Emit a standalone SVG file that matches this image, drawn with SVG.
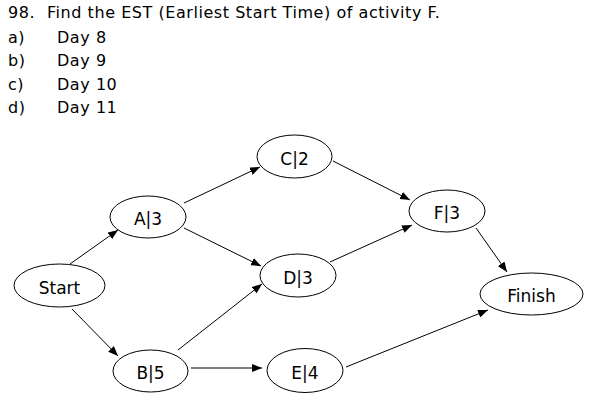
<svg xmlns="http://www.w3.org/2000/svg" width="604" height="402" viewBox="0 0 604 402">
<style>
text{font-family:"DejaVu Sans",Verdana,sans-serif;fill:#000}
#question text{font-size:16px;letter-spacing:0.55px}
.n ellipse{fill:#fff;stroke:#000;stroke-width:1}
.n text{text-anchor:middle;font-size:17px}
#edges line{stroke:#000;stroke-width:1;marker-end:url(#ah)}
</style>
<defs>
<marker id="ah" markerWidth="10" markerHeight="8" refX="10" refY="4" orient="auto" markerUnits="userSpaceOnUse">
<path d="M0,0 L10,4 L0,8 Z" fill="#000"/>
</marker>
</defs>
<rect width="604" height="402" fill="#fff"/>
<g id="question">
<text x="8" y="18">98.</text><text x="47" y="18">Find the EST (Earliest Start Time) of activity F.</text>
<text x="8" y="43">a)</text><text x="57" y="43">Day 8</text>
<text x="8" y="66">b)</text><text x="57" y="66">Day 9</text>
<text x="8" y="90">c)</text><text x="57" y="90">Day 10</text>
<text x="8" y="113">d)</text><text x="57" y="113">Day 11</text>
</g>
<g id="edges">
<line x1="70" y1="264" x2="118" y2="230"/>
<line x1="72" y1="309" x2="118" y2="356"/>
<line x1="184" y1="203" x2="260" y2="167"/>
<line x1="184" y1="228" x2="261" y2="266"/>
<line x1="178" y1="350" x2="262" y2="284"/>
<line x1="191" y1="368" x2="262" y2="368"/>
<line x1="333" y1="161" x2="410" y2="200"/>
<line x1="330" y1="262" x2="412" y2="225"/>
<line x1="476" y1="228" x2="507" y2="272"/>
<line x1="346" y1="367" x2="488" y2="310"/>
</g>
<g id="start" class="n"><ellipse cx="59.5" cy="285.5" rx="45.5" ry="21.5"/><text x="59.5" y="293.5">Start</text></g>
<g id="a" class="n"><ellipse cx="148" cy="217" rx="38" ry="21"/><text x="148" y="225">A|3</text></g>
<g id="b" class="n"><ellipse cx="150.5" cy="371" rx="37.5" ry="21"/><text x="150.5" y="379">B|5</text></g>
<g id="c" class="n"><ellipse cx="294.5" cy="156.5" rx="37.5" ry="21.5"/><text x="294.5" y="164.5">C|2</text></g>
<g id="d" class="n"><ellipse cx="298" cy="275.5" rx="38" ry="21.5"/><text x="298" y="283.5">D|3</text></g>
<g id="e" class="n"><ellipse cx="305" cy="370.5" rx="38" ry="22"/><text x="305" y="378.5">E|4</text></g>
<g id="f" class="n"><ellipse cx="447" cy="211" rx="38" ry="21"/><text x="447" y="219">F|3</text></g>
<g id="finish" class="n"><ellipse cx="531.5" cy="294" rx="51.5" ry="21"/><text x="531.5" y="302">Finish</text></g>
</svg>
